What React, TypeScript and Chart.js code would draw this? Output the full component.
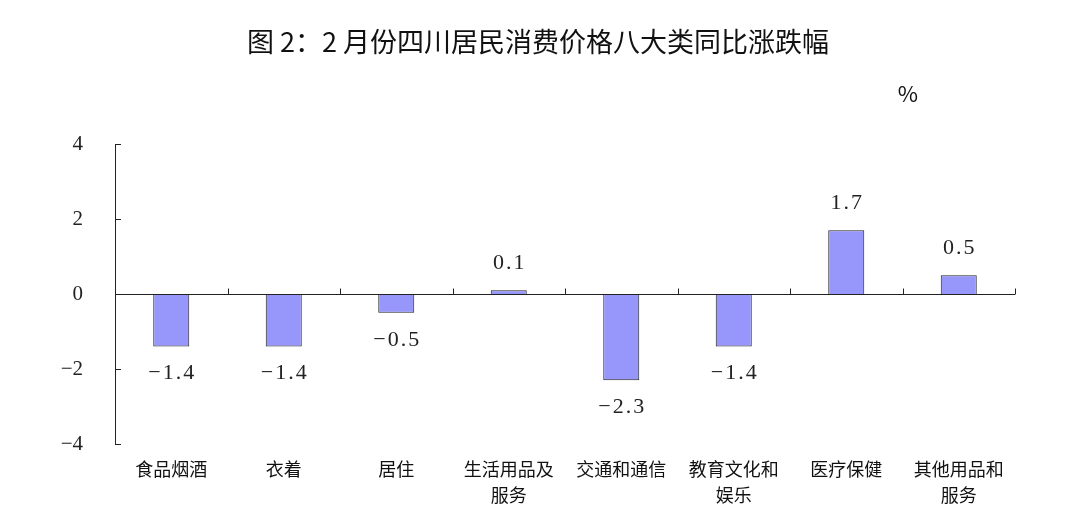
import React, { useEffect, useRef } from "react";
import { Chart, registerables } from "chart.js";

Chart.register(...registerables);

const categories: (string | string[])[] = [
  "食品烟酒",
  "衣着",
  "居住",
  ["生活用品及", "服务"],
  "交通和通信",
  ["教育文化和", "娱乐"],
  "医疗保健",
  ["其他用品和", "服务"],
];
const values: number[] = [-1.4, -1.4, -0.5, 0.1, -2.3, -1.4, 1.7, 0.5];
const yTicks: number[] = [-4, -2, 0, 2, 4];
const titleText = "图 2：2 月份四川居民消费价格八大类同比涨跌幅";
const unitText = "%";

const CJK = '"Noto Sans CJK SC", "Noto Sans", sans-serif';
const SERIF = '"Liberation Serif", "DejaVu Serif", serif';

const fmt = (v: number, digits: number) =>
  (v < 0 ? "\u2212" : "") + Math.abs(v).toFixed(digits);

const decorPlugin = {
  id: "decor",
  afterDatasetsDraw(chart: any) {
    const ctx = chart.ctx;
    const x = chart.scales.x;
    const y = chart.scales.y;
    const area = chart.chartArea;
    ctx.save();
    // title
    ctx.fillStyle = "#111";
    ctx.font = `27px ${CJK}`;
    ctx.textAlign = "center";
    ctx.textBaseline = "middle";
    ctx.fillText(titleText, 538, 42);
    // unit
    ctx.font = `22px ${CJK}`;
    ctx.fillText(unitText, 908, 94);

    // y axis line and ticks
    ctx.strokeStyle = "#222";
    ctx.lineWidth = 1;
    ctx.beginPath();
    ctx.moveTo(area.left + 0.5, area.top);
    ctx.lineTo(area.left + 0.5, area.bottom);
    yTicks.forEach((t) => {
      const py = Math.round(y.getPixelForValue(t)) + 0.5;
      ctx.moveTo(area.left, py);
      ctx.lineTo(area.left + 6, py);
    });
    ctx.stroke();

    // zero line with category separators
    const zy = Math.round(y.getPixelForValue(0)) + 0.5;
    ctx.beginPath();
    ctx.moveTo(area.left, zy);
    ctx.lineTo(area.right, zy);
    const step = (area.right - area.left) / categories.length;
    for (let i = 1; i <= categories.length; i++) {
      const px = Math.round(area.left + step * i) + 0.5;
      ctx.moveTo(px, zy);
      ctx.lineTo(px, zy - 6);
    }
    ctx.stroke();

    // data labels
    ctx.font = `22px ${SERIF}`;
    ctx.fillStyle = "#222";
    (ctx as any).letterSpacing = "2px";
    values.forEach((v, i) => {
      const px = x.getPixelForValue(i);
      const py = y.getPixelForValue(v);
      const ly = v >= 0 ? py - 27 : py + 27;
      ctx.fillText(fmt(v, 1), px + 1, ly);
    });
    ctx.restore();
  },
};

export default function App() {
  const ref = useRef<HTMLCanvasElement | null>(null);
  useEffect(() => {
    if (!ref.current) return;
    const chart = new Chart(ref.current, {
      type: "bar",
      data: {
        labels: categories as any,
        datasets: [
          {
            data: values,
            backgroundColor: "#9797FB",
            borderColor: "#222",
            borderWidth: 1,
            barPercentage: 0.32,
            categoryPercentage: 1,
          },
        ],
      },
      options: {
        animation: false,
        responsive: false,
        maintainAspectRatio: false,
        layout: { padding: { top: 144, right: 65, left: 0, bottom: 0 } },
        plugins: {
          legend: { display: false },
          tooltip: { enabled: false },
          title: { display: false },
        },
        scales: {
          x: {
            grid: { display: false },
            border: { display: false },
            ticks: {
              color: "#111",
              font: { family: CJK, size: 18, lineHeight: 1.45 },
              padding: 4,
              maxRotation: 0,
              autoSkip: false,
            },
            afterFit(scale: any) {
              scale.height = 86;
            },
          },
          y: {
            min: -4,
            max: 4,
            grid: { display: false },
            border: { display: false },
            ticks: {
              stepSize: 2,
              color: "#222",
              font: { family: SERIF, size: 21 },
              padding: 24,
              callback: (v: any) => fmt(Number(v), 0),
            },
            afterFit(scale: any) {
              scale.width = 115;
            },
          },
        },
      },
      plugins: [decorPlugin],
    });
    return () => chart.destroy();
  }, []);
  return (
    <div style={{ position: "fixed", left: 0, top: 0, width: 1080, height: 530, background: "#fff" }}>
      <canvas ref={ref} width={1080} height={530} style={{ width: 1080, height: 530 }} />
    </div>
  );
}
